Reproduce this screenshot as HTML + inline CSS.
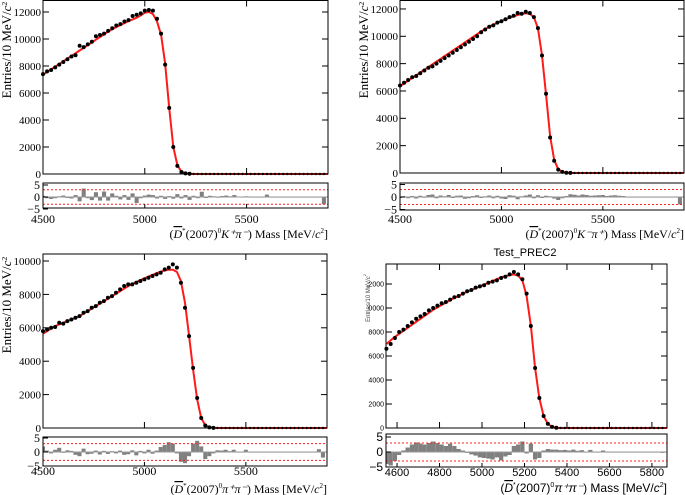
<!DOCTYPE html>
<html><head><meta charset="utf-8"><style>
html,body{margin:0;padding:0;background:#fff;}
svg{display:block;}
.serif{font-family:"Liberation Serif",serif;}
.sans{font-family:"Liberation Sans",sans-serif;}
</style></head><body>
<svg id="fig" width="685" height="495" viewBox="0 0 685 495" xmlns="http://www.w3.org/2000/svg"></svg>
<script>
// ---------- data ----------
const massBinsA = [4500,4520,4540,4560,4580,4600,4620,4640,4660,4680,4700,4720,4740,4760,4780,4800,4820,4840,4860,4880,4900,4920,4940,4960,4980,5000,5020,5040,5060,5080,5100,5120,5140,5160,5180,5200,5220,5240,5260,5280,5300,5320,5340,5360,5380,5400,5420,5440,5460,5480,5500,5520,5540,5560,5580,5600,5620,5640,5660,5680,5700,5720,5740,5760,5780,5800,5820,5840,5860,5880];
const massBinsB = [4550,4570,4590,4610,4630,4650,4670,4690,4710,4730,4750,4770,4790,4810,4830,4850,4870,4890,4910,4930,4950,4970,4990,5010,5030,5050,5070,5090,5110,5130,5150,5170,5190,5210,5230,5250,5270,5290,5310,5330,5350,5370,5390,5410,5430,5450,5470,5490,5510,5530,5550,5570,5590,5610,5630,5650,5670,5690,5710,5730,5750,5770,5790,5810,5830,5850];

const dataKpi = [7400,7600,7700,7900,8100,8300,8500,8700,8800,9500,9400,9600,9800,10200,10300,10400,10600,10800,11000,11100,11300,11400,11700,11800,11900,12100,12150,12100,11500,10400,8100,4900,2000,600,150,50,20,0,0,0,0,0,0,0,0,0,0,0,0,0,0,0,0,0,0,0,0,0,0,0,0,0,0,0,0,0,0,0,0,0];
const fitKpi = [7350,7550,7750,7950,8150,8350,8550,8750,8950,9150,9350,9550,9750,9950,10150,10350,10550,10720,10880,11030,11180,11320,11450,11580,11750,11950,12000,11850,11300,10300,8200,4900,2000,650,180,50,15,0,0,0,0,0,0,0,0,0,0,0,0,0,0,0,0,0,0,0,0,0,0,0,0,0,0,0,0,0,0,0,0,0];
const residKpi = [0.5,-0.5,-0.8,-0.5,0.3,0.6,-0.4,-0.6,0.8,-1.8,3.5,-0.5,-1.3,2.0,-1.5,2.3,-1.5,1.5,0.5,-1.0,0.8,-1.2,1.5,-2.5,-0.5,0.6,1.0,0.8,-0.6,0.5,-0.8,0.4,-0.7,1.2,-0.6,0.8,-1.2,0.5,-0.5,2.2,-0.4,0.5,0.3,-0.3,0.4,0.6,0.3,0.8,0.2,0,0.3,0,0,0,0,1.0,0,0,0,0,0,0,0,0,0,0,0,0,0,-3.0];

const dataKmpi = [6400,6600,6800,7000,7100,7300,7500,7700,7800,8000,8200,8400,8600,8800,9000,9200,9400,9600,9800,10000,10300,10500,10700,10800,11000,11100,11250,11400,11500,11700,11650,11800,11700,11400,10600,8600,5800,2600,900,250,80,20,5,0,0,0,0,0,0,0,0,0,0,0,0,0,0,0,0,0,0,0,0,0,0,0,0,0,0,0];
const fitKmpi = [6350,6550,6750,6950,7150,7350,7550,7750,7950,8150,8350,8550,8750,8950,9150,9350,9550,9750,9950,10150,10350,10530,10700,10850,10990,11120,11240,11360,11460,11560,11640,11680,11650,11400,10600,8600,5700,2700,950,280,80,20,5,0,0,0,0,0,0,0,0,0,0,0,0,0,0,0,0,0,0,0,0,0,0,0,0,0,0,0];
const residKmpi = [-0.4,0.3,-0.5,0.4,-0.6,0.5,-0.3,0.8,1.0,-0.5,0.6,0.3,0.8,-0.4,0.5,0.6,-0.7,-0.5,0.4,0.7,-0.4,0.3,0.6,-0.5,0.5,-0.6,-0.8,0.7,0.5,-0.9,0.3,0.6,1.0,-0.5,0.7,-0.4,0.5,0.3,-0.6,-1.2,-0.5,0.4,1.1,0.9,0.6,1.0,0.8,0.5,0.6,0.7,0.8,0.4,0.6,0.7,0.5,0.4,0,0,0,0,0,0,0,0,0,0,0,0,0,-3.0];

const dataPipi = [5800,5900,6000,6050,6300,6250,6400,6500,6600,6700,6900,7000,7200,7300,7500,7600,7800,7900,8100,8300,8500,8600,8600,8700,8800,8900,9000,9100,9200,9300,9500,9600,9800,9600,8700,7200,5500,3600,1800,600,150,40,10,0,0,0,0,0,0,0,0,0,0,0,0,0,0,0,0,0,0,0,0,0,0,0,0,0,0,0];
const fitPipi = [5650,5800,5950,6100,6200,6300,6400,6500,6600,6700,6850,7000,7150,7300,7450,7600,7750,7900,8050,8200,8350,8500,8620,8740,8850,8960,9070,9170,9270,9360,9430,9480,9480,9350,8800,7500,5500,3500,1700,600,170,40,10,0,0,0,0,0,0,0,0,0,0,0,0,0,0,0,0,0,0,0,0,0,0,0,0,0,0,0];
const residPipi = [2.0,0.5,-0.5,0.8,1.5,-0.3,0.6,0.4,-1.0,-1.5,1.2,-0.8,-0.6,0.5,-0.9,0.4,-0.7,0.3,-0.5,0.5,-1.0,-0.8,0.6,-1.2,0.4,-0.5,0.8,-0.6,0.5,1.8,2.5,3.5,3.0,-0.5,-3.5,-4.0,-1.5,3.0,4.0,2.0,-2.5,-1.5,-0.5,0.6,0.5,0.8,0.3,0.8,0,0,0.8,0,0,0,0,0,0,0,0,0,0,0,0,0,0,0,0,0,1.0,-2.0];

const dataPrec = [6600,7000,7500,8000,8200,8500,8800,9100,9300,9500,9800,10000,10200,10400,10500,10700,10900,11000,11200,11400,11500,11700,11800,11900,12100,12200,12300,12500,12600,12800,13000,12800,12400,11200,8500,5000,2500,1000,350,90,20,0,0,0,0,0,0,0,0,0,0,0,0,0,0,0,0,0,0,0,0,0,0,0,0,0];
const fitPrec = [7000,7300,7600,7850,8100,8350,8600,8850,9100,9350,9600,9850,10050,10250,10450,10650,10850,11000,11200,11350,11500,11650,11800,11950,12100,12250,12400,12550,12650,12750,12800,12700,12300,11000,8500,5000,2500,1000,350,90,20,0,0,0,0,0,0,0,0,0,0,0,0,0,0,0,0,0,0,0,0,0,0,0,0,0];
const residPrec = [-4.0,-4.5,-3.0,-1.0,0.5,1.5,2.5,3.2,2.8,2.5,3.0,3.5,3.0,2.5,2.0,2.8,2.0,1.0,0.5,-0.3,-0.8,-1.2,-1.8,-2.0,-2.2,-2.5,-1.8,-2.8,-1.5,-1.0,2.0,2.5,3.5,-0.5,2.8,-2.5,-2.0,0.5,1.0,0.8,0.8,0.6,0.7,0.5,0.8,0.4,0.6,0,0.7,0,0,0.5,0,0,0,0,0,0,0,0,0,0,0,0,0,-0.3];

const xTicksA = [4500,5000,5500];
const xTicksB = [4600,4800,5000,5200,5400,5600,5800];
const yTicks12 = [0,2000,4000,6000,8000,10000,12000];
const yTicks10 = [0,2000,4000,6000,8000,10000];
const rTicks = [5,0,-5];

// ---------- drawing ----------
const NS = "http://www.w3.org/2000/svg";
const svg = document.getElementById('fig');
function mk(tag, attrs, parent){
  const e = document.createElementNS(NS, tag);
  for (const k in attrs) e.setAttribute(k, attrs[k]);
  (parent||svg).appendChild(e);
  return e;
}

function drawPanel(c, bins, data, fit, resid, xTicks, yTicks){
  const g = mk('g', {});
  
  
  const xs = v => c.x0 + (v - c.xmin) / (c.xmax - c.xmin) * (c.x1 - c.x0);
  const ys = v => c.y0 - v * c.ky;
  const rs = v => c.r0 - v * c.kr;
  const binW = (bins[1] - bins[0]) / (c.xmax - c.xmin) * (c.x1 - c.x0);

  const rg = mk('g', {}, g);
  
  
  const n3 = Math.min(bins.length, resid.length);
  for (let i = 0; i < n3; i++){
    const v = Math.max(-5.3, Math.min(5.3, resid[i]));
    const xl = Math.max(c.x0, xs(bins[i]) - binW/2), xr = Math.min(c.x1, xs(bins[i]) + binW/2);
    const y1 = rs(Math.max(v,0)), y2 = rs(Math.min(v,0));
    const b = mk('rect', {x:xl, y:y1, width:Math.max(0,xr-xl), height:Math.max(0.6,y2-y1), fill:'#808080'}, rg);
    
    
  }
  mk('line', {x1:c.x0, x2:c.x1, y1:rs(0), y2:rs(0), stroke:'#999', 'stroke-width':1}, g);
  [3,-3].forEach(v=>{
    const l = mk('line', {x1:c.x0, x2:c.x1, y1:rs(v), y2:rs(v), stroke:'#ff2020', 'stroke-width':1, 'stroke-dasharray':'2,2'}, g);
    
    
  });

  let pts = [];
  const n2 = Math.min(bins.length, fit.length);
  for (let i = 0; i < n2; i++) pts.push(xs(bins[i]).toFixed(1)+','+ys(fit[i]).toFixed(1));
  pts.push(c.x1+','+ys(fit[n2-1]).toFixed(1));
  const fl = mk('polyline', {points:pts.join(' '), fill:'none', stroke:'#ff1a1a', 'stroke-width':2, 'stroke-linejoin':'round'}, g);
  
  

  const dg = mk('g', {}, g);
  
  
  const n1 = Math.min(bins.length, data.length);
  for (let i = 0; i < n1; i++){
    const p = mk('circle', {cx:xs(bins[i]), cy:ys(data[i]), r: data[i] > 0 ? 2 : 1.2, fill:'#000'}, dg);
    
    
  }

  const f1 = mk('rect', {x:c.x0, y:c.top, width:c.x1-c.x0, height:c.y0-c.top, fill:'none', stroke:'#000', 'stroke-width':1}, g);
  
  
  const f2 = mk('rect', {x:c.x0, y:c.rTop, width:c.x1-c.x0, height:c.rBot-c.rTop, fill:'none', stroke:'#000', 'stroke-width':1}, g);
  
  

  const tickFont = c.sans ? 'sans' : 'serif';
  xTicks.forEach(t=>{
    const x = xs(t);
    mk('line', {x1:x, x2:x, y1:c.y0, y2:c.y0-6, stroke:'#000'}, g);
    mk('line', {x1:x, x2:x, y1:c.top, y2:c.top+6, stroke:'#000'}, g);
    mk('line', {x1:x, x2:x, y1:c.rBot, y2:c.rBot-4, stroke:'#000'}, g);
    const tl = mk('text', {x:x, y:c.xLabY, 'text-anchor':'middle', 'font-size':c.xFont, class:tickFont}, g);
    tl.textContent = t;
    
    
  });
  yTicks.forEach(t=>{
    const y = ys(t);
    mk('line', {x1:c.x0, x2:c.x0+6, y1:y, y2:y, stroke:'#000'}, g);
    mk('line', {x1:c.x1, x2:c.x1-6, y1:y, y2:y, stroke:'#000'}, g);
    const tl = mk('text', {x:c.x0-2, y:y+c.yFont*0.35, 'text-anchor':'end', 'font-size':c.yFont, class:tickFont}, g);
    if (c.clip) tl.setAttribute('clip-path', 'url(#'+c.clip+')');
    tl.textContent = t;
    
    
  });
  rTicks.forEach(t=>{
    const y = rs(t);
    mk('line', {x1:c.x0, x2:c.x0+5, y1:y, y2:y, stroke:'#000'}, g);
    const tl = mk('text', {x:c.x0-3, y:y+4, 'text-anchor':'end', 'font-size':c.rFont, class:tickFont}, g);
    tl.textContent = t < 0 ? '\u2212' + (-t) : t;
    
    
  });

  const xt = mk('text', {x:c.x1, y:c.xTitleY, 'text-anchor':'end', 'font-size':c.titleFont, class:tickFont}, g);
  xt.innerHTML = '(<tspan text-decoration="overline" font-style="italic">D</tspan><tspan font-size="7" dy="-5">*</tspan><tspan dy="5">(2007)</tspan><tspan font-size="7" dy="-5">0</tspan><tspan dy="5" font-style="italic">'+c.fs+'</tspan>) Mass [MeV/<tspan font-style="italic">c</tspan><tspan font-size="7" dy="-5">2</tspan><tspan dy="5">]</tspan>';
  
  

  const yt = mk('text', {x:0, y:0, 'text-anchor':'middle', 'font-size':c.yTitleFont, class:tickFont,
    transform:'translate('+c.yTitleX+','+c.yTitleMid+') rotate(-90)', fill: c.sans ? '#444' : '#000'}, g);
  yt.innerHTML = 'Entries/10 MeV/<tspan font-style="italic">c</tspan><tspan font-size="'+(c.yTitleFont*0.6)+'" dy="-4">2</tspan>';
  
  
}

const defs = mk('defs', {});
const cp = mk('clipPath', {id:'clip4'}, defs);
mk('rect', {x:367, y:250, width:30, height:190}, cp);

const serifCfg = {xFont:12, yFont:11, rFont:12, titleFont:12, yTitleFont:13};

drawPanel(Object.assign({name:'panel-kpi', x0:43, x1:328, xmin:4500, xmax:5900, top:0.5, y0:174, ky:0.0135,
  rTop:183, rBot:208, r0:197, kr:2.4, xLabY:223, xTitleY:238, yTitleX:11, yTitleMid:50, fs:'K\u207A\u03C0\u207B'}, serifCfg),
  massBinsA, dataKpi, fitKpi, residKpi, xTicksA, yTicks12);

drawPanel(Object.assign({name:'panel-kmpi', x0:400, x1:684, xmin:4500, xmax:5900, top:0.5, y0:173, ky:0.01367,
  rTop:183, rBot:210, r0:197, kr:2.5, xLabY:223, xTitleY:238, yTitleX:368, yTitleMid:50, fs:'K\u207B\u03C0\u207A'}, serifCfg),
  massBinsA, dataKmpi, fitKmpi, residKmpi, xTicksA, yTicks12);

drawPanel(Object.assign({name:'panel-pipi', x0:43, x1:327, xmin:4500, xmax:5900, top:254, y0:428, ky:0.0167,
  rTop:437, rBot:466, r0:452, kr:2.8, xLabY:475, xTitleY:493, yTitleX:11, yTitleMid:305, fs:'\u03C0\u207A\u03C0\u207B'}, serifCfg),
  massBinsA, dataPipi, fitPipi, residPipi, xTicksA, yTicks10);

drawPanel({name:'panel-prec2', x0:386, x1:667, xmin:4548, xmax:5871, top:264, y0:428, ky:0.012,
  rTop:434, rBot:467, r0:452, kr:3.0, xLabY:476, xTitleY:492, yTitleX:370, yTitleMid:298,
  xFont:11, yFont:7, rFont:12, titleFont:12, yTitleFont:6, sans:true, clip:'clip4', fs:'\u03C0\u207A\u03C0\u207B'},
  massBinsB, dataPrec, fitPrec, residPrec, xTicksB, yTicks12);

const title = mk('text', {x:525, y:256, 'text-anchor':'middle', 'font-size':11, class:'sans'});
title.textContent = 'Test_PREC2';


</script>
</body></html>
